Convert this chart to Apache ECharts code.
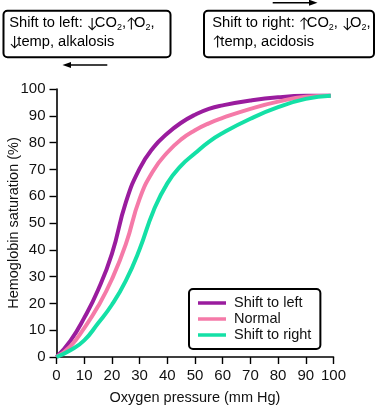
<!DOCTYPE html>
<html>
<head>
<meta charset="utf-8">
<script src="https://cdn.jsdelivr.net/npm/echarts@6/dist/echarts.min.js"></script>
<style>html,body{margin:0;padding:0;background:#fff}#c{width:386px;height:406px}</style>
</head>
<body>
<div id="c"></div>
<script>
// Data: [oxygen pressure (mm Hg), saturation (%)]
var seriesNames = ['Shift to left', 'Normal', 'Shift to right'];
var shiftLeft  = [[0,0],[5,6],[10,14.6],[15,25],[20,38.5],[25,57.6],[30,70.3],[35,78.2],[40,83.4],[45,87.4],[50,90.4],[55,92.6],[60,93.9],[70,95.7],[80,96.9],[90,97.45],[99,97.5]];
var normal     = [[0,0],[5,4],[10,10.8],[15,18.9],[20,29],[25,42],[30,59],[35,69.6],[40,76.3],[45,81.2],[50,84.6],[55,87.2],[60,89.2],[70,92.6],[80,95.3],[90,97.1],[99,97.5]];
var shiftRight = [[0,0],[5,2.5],[10,6.2],[15,12.6],[20,19.5],[25,28.4],[30,40.2],[35,54.5],[40,64.8],[45,71.4],[50,76],[55,80.3],[60,83.6],[70,88.9],[80,93.2],[90,96.3],[99,97.5]];
var xTicks = {min: 0, max: 100, interval: 10};
var yTicks = {min: 0, max: 100, interval: 10};
var xName = 'Oxygen pressure (mm Hg)';
var yName = 'Hemoglobin saturation (%)';
var colors = ['#9a1c9e', '#f57aa8', '#14e0a6'];

var FONT = 'Liberation Sans, Arial, Helvetica, sans-serif';
var chart = echarts.init(document.getElementById('c'), null, {renderer: 'canvas'});

var richStyle = {
  n: {fontSize: 14.7, fontFamily: FONT, color: '#111', lineHeight: 18.7},
  a: {fontSize: 14, fontFamily: 'Lato', color: '#111', lineHeight: 18.7, width: 8},
  s: {fontSize: 9, fontFamily: FONT, color: '#111', lineHeight: 10, verticalAlign: 'bottom'}
};

function axisCommon(t, name) {
  return {
    type: 'value', min: t.min, max: t.max, interval: t.interval,
    name: name, nameLocation: 'middle', nameMoveOverlap: false,
    nameTextStyle: {fontSize: 14.5, fontFamily: FONT, color: '#111'},
    axisLine: {show: true, lineStyle: {color: '#000', width: 1.6}},
    axisTick: {show: true, inside: false, length: 7, lineStyle: {color: '#000', width: 1.4}},
    axisLabel: {fontSize: 15, fontFamily: FONT, color: '#111'},
    splitLine: {show: false}
  };
}
var xa = axisCommon(xTicks, xName);
xa.nameGap = 33; xa.axisLabel.margin = 11;
var ya = axisCommon(yTicks, yName);
ya.nameGap = 35; ya.nameRotate = 90; ya.axisLabel.margin = 11;

var datasets = [shiftLeft, normal, shiftRight];
var series = datasets.map(function (d, i) {
  return {
    name: seriesNames[i], type: 'line', data: d, smooth: 0.5,
    showSymbol: false, symbol: 'none',
    lineStyle: {color: colors[i], width: 4},
    itemStyle: {color: colors[i]}
  };
});

chart.setOption({
  animation: false,
  grid: {left: 56.5, right: 52.5, top: 89, bottom: 49, containLabel: false, outerBoundsMode: 'none'},
  xAxis: xa,
  yAxis: ya,
  legend: {
    data: seriesNames, orient: 'vertical', left: 189, top: 289,
    icon: 'rect', itemWidth: 28, itemHeight: 3.5, itemGap: 0,
    padding: [6, 9, 6, 9],
    borderColor: '#000', borderWidth: 2, borderRadius: 4,
    backgroundColor: '#fff',
    textStyle: {fontSize: 14.5, fontFamily: FONT, color: '#111', lineHeight: 16, padding: [0, 0, 0, 3]}
  },
  series: series,
  graphic: [
    {type: 'rect', shape: {x: 3.5, y: 10.7, width: 167, height: 46.6, r: 4}, style: {fill: '#fff', stroke: '#000', lineWidth: 2}},
    {type: 'rect', shape: {x: 204, y: 10.7, width: 170, height: 46.6, r: 4}, style: {fill: '#fff', stroke: '#000', lineWidth: 2}},
    {type: 'text', x: 9.3, y: 13.7, style: {text: '{n|Shift to left: }{a|\u2193}{n|CO}{s|2}{n|,}{a|\u2191}{n|O}{s|2}{n|,}\n{a|\u2193}{n|temp, alkalosis}', rich: richStyle, verticalAlign: 'top', align: 'left'}},
    {type: 'text', x: 212.3, y: 13.7, style: {text: '{n|Shift to right: }{a|\u2191}{n|CO}{s|2}{n|, }{a|\u2193}{n|O}{s|2}{n|,}\n{a|\u2191}{n|temp, acidosis}', rich: richStyle, verticalAlign: 'top', align: 'left'}},
    {type: 'line', shape: {x1: 68, y1: 65, x2: 107.3, y2: 65}, style: {stroke: '#000', lineWidth: 1.5}},
    {type: 'polygon', shape: {points: [[62.5, 65], [71, 62], [71, 68]]}, style: {fill: '#000'}},
    {type: 'line', shape: {x1: 272.7, y1: 2.7, x2: 312, y2: 2.7}, style: {stroke: '#000', lineWidth: 1.5}},
    {type: 'polygon', shape: {points: [[317.5, 2.7], [309, -0.3], [309, 5.7]]}, style: {fill: '#000'}}
  ]
});
</script>
</body>
</html>
